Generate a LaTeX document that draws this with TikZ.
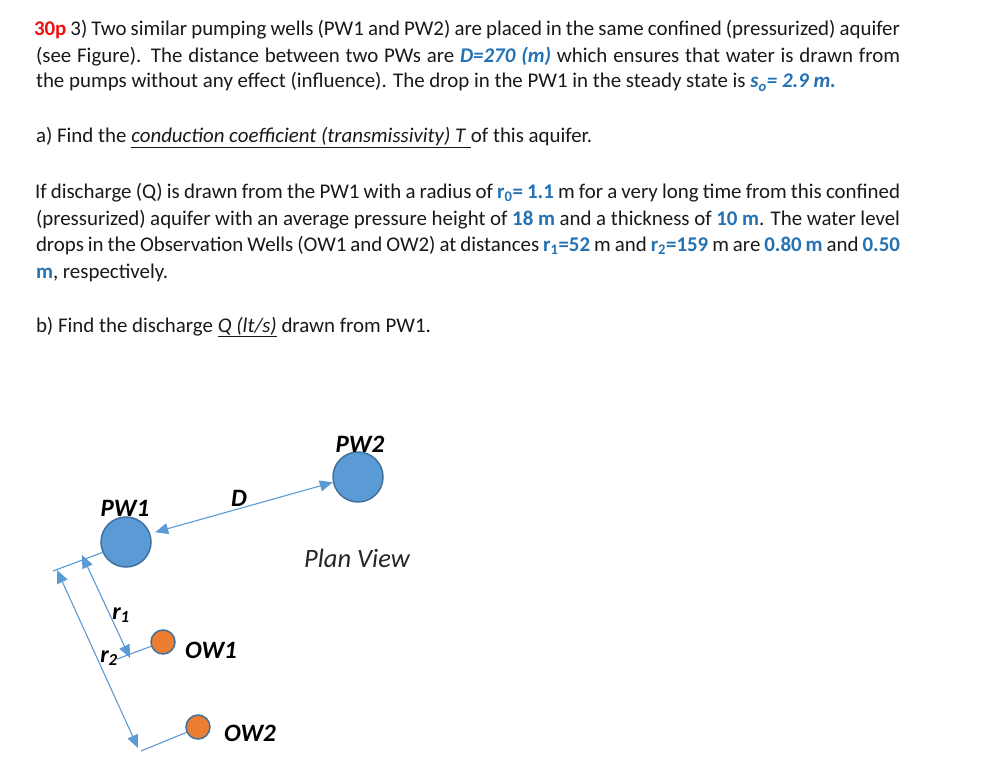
\documentclass[tikz,border=0pt]{standalone}
\usepackage{fontspec}
\setmainfont{Carlito}
\usetikzlibrary{arrows.meta}
\definecolor{linkblue}{HTML}{5B9BD5}
\definecolor{edgeblue}{HTML}{41719C}
\definecolor{wellorange}{HTML}{ED7D31}
\definecolor{valblue}{HTML}{2272B5}
\definecolor{markred}{HTML}{F01010}
\newcommand{\bodyfont}{\fontsize{20.9}{24}\selectfont}
\newcommand{\val}[1]{\textcolor{valblue}{\textbf{#1}}}
\newcommand{\ival}[1]{\textcolor{valblue}{\textbf{\textit{#1}}}}
\newcommand{\fitline}[2]{\hbox to #1{\spaceskip=0.226em plus 1fil minus 1fil\relax #2}}
\tikzset{
  x=1pt,y=-1pt,
  textline/.style={anchor=base west,inner sep=0pt,outer sep=0pt,font=\bodyfont,text=black!90},
  pumpwell/.style={circle,draw=edgeblue,line width=1.5pt,fill=linkblue,minimum size=50pt,inner sep=0pt},
  obswell/.style={circle,draw=edgeblue,line width=1.5pt,fill=wellorange,minimum size=24pt,inner sep=0pt},
  wellname/.style={inner sep=0pt,font=\fontsize{25}{28}\selectfont\bfseries\itshape,text=black},
  rname/.style={inner sep=0pt,font=\fontsize{24}{28}\selectfont\bfseries\itshape,text=black},
  viewname/.style={inner sep=0pt,font=\fontsize{26.5}{28}\selectfont\itshape,text=black!85},
  leader/.style={draw=linkblue,line width=1.1pt},
  dimline/.style={draw=linkblue,line width=1.1pt,{Triangle[length=13pt,width=11pt,fill=linkblue]}-{Triangle[length=13pt,width=11pt,fill=linkblue]}}
}
\begin{document}
\begin{tikzpicture}
\useasboundingbox (0,0) rectangle (992,765);
\fill[white] (0,0) rectangle (992,765);
% text
\node[textline] (t1) at (34,36) {\fitline{866pt}{\textcolor{markred}{\textbf{30p}} 3) Two similar pumping wells (PW1 and PW2) are placed in the same confined (pressurized) aquifer}};
\node[textline] (t2) at (36,63) {\fitline{864pt}{(see Figure). The distance between two PWs are \ival{D=270 (m)} which ensures that water is drawn from}};
\node[textline] (t3) at (36,88) {the pumps without any effect (influence). The drop in the PW1 in the steady state is \ival{s\textsubscript{o}= 2.9 m.}};
\node[textline] (t4) at (36,142) {a) Find the \underline{\textit{conduction coefficient (transmissivity) T }}of this aquifer.};
\node[textline] (t5) at (35,198) {\fitline{865pt}{If discharge (Q) is drawn from the PW1 with a radius of \val{r\textsubscript{0}= 1.1} m for a very long time from this confined}};
\node[textline] (t6) at (36,225) {\fitline{864pt}{(pressurized) aquifer with an average pressure height of \val{18 m} and a thickness of \val{10 m}. The water level}};
\node[textline] (t7) at (36,251) {\fitline{864pt}{drops in the Observation Wells (OW1 and OW2) at distances \val{r\textsubscript{1}=52} m and \val{r\textsubscript{2}=159} m are \val{0.80 m} and \val{0.50}}};
\node[textline] (t8) at (36,278) {\val{m}, respectively.};
\node[textline] (t9) at (36,332) {b) Find the discharge \underline{\textit{Q (lt/s)}} drawn from PW1.};
% wells
\node[pumpwell] (pw1) at (126,542) {};
\node[pumpwell] (pw2) at (358,477) {};
\node[obswell] (ow1) at (163,642) {};
\node[obswell] (ow2) at (198,727) {};
% free ends of the leaders
\coordinate (a1) at (53,571);
\coordinate (a2) at (117,659);
\coordinate (a3) at (141,751);
\coordinate (d1) at (82,555);
\coordinate (d2) at (130,658);
\coordinate (d3) at (57,570);
\coordinate (d4) at (138,748);
% connectors
\draw[leader] (pw1.204) -- (a1);
\draw[leader] (ow1.200) -- (a2);
\draw[leader] (ow2.205) -- (a3);
\draw[dimline] (pw1.20) ++(5,-1) coordinate (e1) (e1) -- (pw2.192);
\draw[dimline] (d1) -- (d2);
\draw[dimline] (d3) -- (d4);
% labels
\node[wellname] (l1) at (125,508) {PW1};
\node[wellname] (l2) at (360,444) {PW2};
\node[wellname] (l3) at (239,498) {D};
\node[viewname] (l4) at (357,558) {Plan View};
\node[wellname] (l5) at (211,650) {OW1};
\node[wellname] (l6) at (250,733) {OW2};
\node[rname] (l7) at (121,615) {r\textsubscript{1}};
\node[rname] (l8) at (109,658) {r\textsubscript{2}};
\end{tikzpicture}
\end{document}
